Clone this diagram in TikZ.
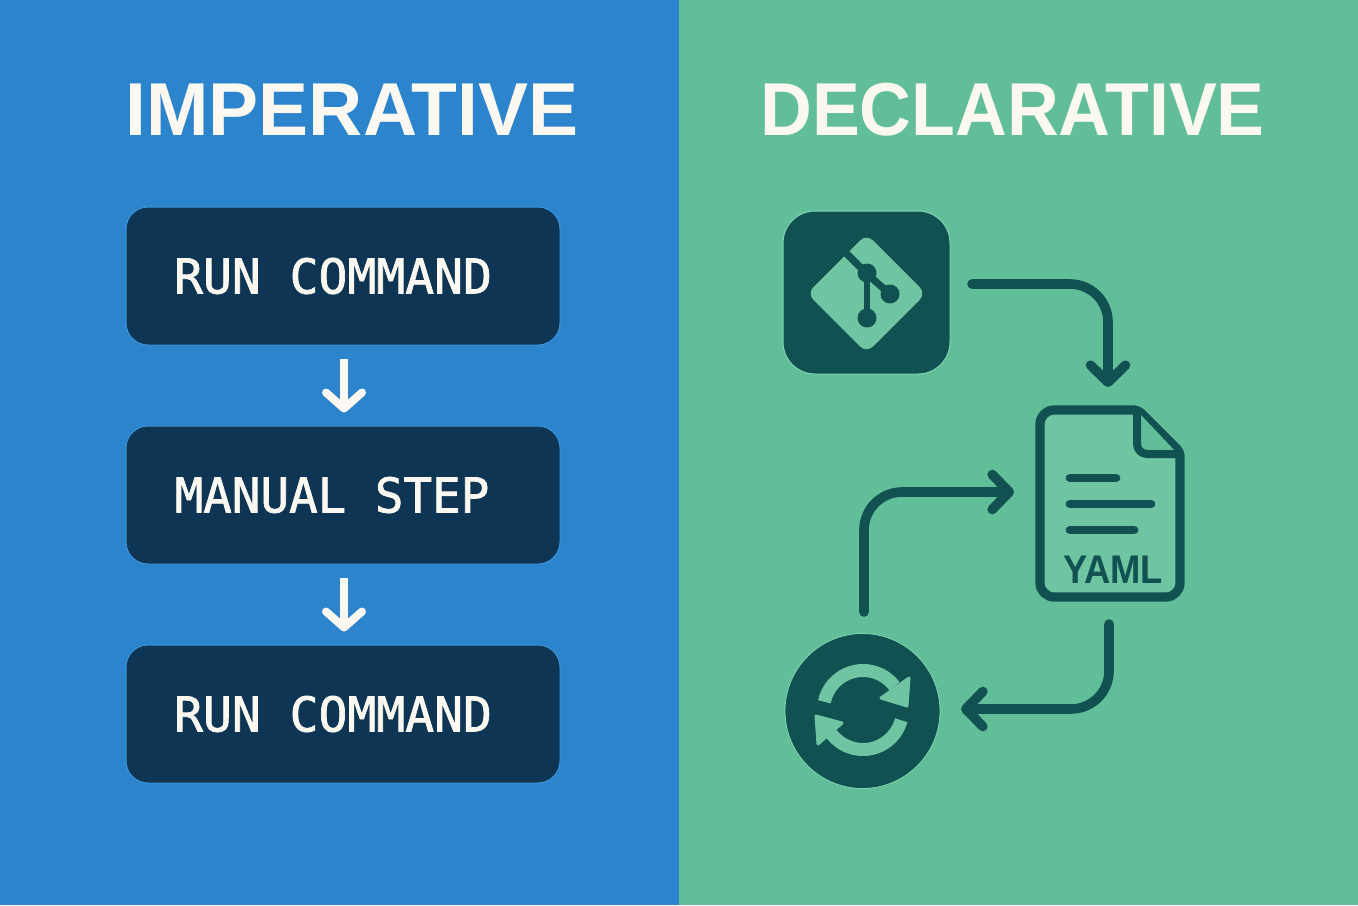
\documentclass[tikz,border=0pt]{standalone}
\usepackage{fontspec}
\setmainfont{Liberation Sans}
\newfontfamily\monofont{DejaVu Sans Mono}[FakeBold=1.5]
\usetikzlibrary{arrows.meta}
\definecolor{bluebg}{HTML}{2B84CC}
\definecolor{greenbg}{HTML}{62BE98}
\definecolor{navy}{HTML}{0E3553}
\definecolor{navyedge}{HTML}{3C95DC}
\definecolor{teal}{HTML}{115152}
\definecolor{pale}{HTML}{6FC5A1}
\definecolor{edgegreen}{HTML}{80D6B2}
\definecolor{cream}{HTML}{FAF8F1}
\tikzset{
  x=0.5pt,y=-0.5pt,
  headtext/.style={font=\fontsize{37.5}{37.5}\selectfont\bfseries,text=cream,inner sep=0pt,anchor=center},
  stepbox/.style={draw=navyedge,line width=0.5pt,fill=navy,rounded corners=11pt,minimum width=217pt,minimum height=69pt,inner sep=0pt},
  steptext/.style={font=\fontsize{24}{24}\selectfont\monofont,text=cream,inner sep=0pt},
  whitearrow/.style={draw=cream,line width=4pt,-{Straight Barb[round,length=8pt,width=18pt]}},
  flow/.style={draw=teal,line width=4.8pt,line cap=round,-{Straight Barb[round,length=8.5pt,width=17.5pt]}},
  doclines/.style={draw=teal,line width=4.4pt,line cap=round},
}
\begin{document}
\begin{tikzpicture}
\useasboundingbox (0,0) rectangle (1358,905);
\fill[bluebg] (0,0) rectangle (679,905);
\fill[greenbg] (679,0) rectangle (1358,905);
\node[headtext] (t1) at (352,110) {IMPERATIVE};
\node[headtext] (t2) at (1012.5,110) {\scalebox{0.956}[1]{DECLARATIVE}};
% left column
\node[stepbox] (a) at (343,276) {};
\node[stepbox] (b) at (343,495) {};
\node[stepbox] (c) at (343,714) {};
\node[steptext] (ta) at (333,276) {RUN COMMAND};
\node[steptext] (tb) at (332,495) {\scalebox{0.99}[1]{MANUAL STEP}};
\node[steptext] (tc) at (333,714) {RUN COMMAND};
\draw[whitearrow] ([xshift=0.5pt,yshift=-6.5pt]a.south) -- ([xshift=0.5pt,yshift=6.5pt]b.north);
\draw[whitearrow] ([xshift=0.5pt,yshift=-6.5pt]b.south) -- ([xshift=0.5pt,yshift=6.5pt]c.north);
% git icon
\node[draw=edgegreen,line width=0.5pt,fill=teal,rounded corners=16pt,minimum width=83.5pt,minimum height=81.5pt,inner sep=0pt] (git) at (866.5,292.5) {};
\fill[pale,rounded corners=4.5pt] (866.5,234) -- (926,293.5) -- (866.5,353) -- (807,293.5) -- cycle;
\draw[teal,line width=3.6pt] (838,245) -- (867,274) -- (890,294);
\draw[teal,line width=2.8pt] (867,274) -- (867,318);
\fill[teal] (867,273) circle[radius=9.5];
\fill[teal] (890,294) circle[radius=9.5];
\fill[teal] (867,318) circle[radius=9.5];
% yaml doc
\draw[teal,fill=pale,line width=4.6pt,line join=round]
  [rounded corners=7pt] (1040,503) -- (1040,410)
  [rounded corners=2pt] -- (1138,410) -- (1180,452)
  [rounded corners=7pt] -- (1180,597) -- (1040,597) -- cycle;
\fill[greenbg] (1140,414) -- (1176,452) -- (1140,452) -- cycle;
\draw[teal,line width=4pt,rounded corners=5pt,line join=round] (1137,412) -- (1137,454) -- (1179,454);
\node[minimum width=70pt,minimum height=90pt,inner sep=0pt] (yaml) at (1110,503) {};
\draw[doclines] (1070,478) -- (1116,478);
\draw[doclines] (1070,504) -- (1151,504);
\draw[doclines] (1070,530) -- (1134,530);
\node[font=\fontsize{20}{20}\selectfont\bfseries,text=teal,inner sep=0pt] (ytext) at (1113,570) {\scalebox{0.91}[1]{YAML}};
% sync icon
\node[circle,draw=edgegreen,line width=0.4pt,fill=teal,minimum size=77.5pt,inner sep=0pt] (sync) at (862.5,711) {};
\draw[pale,line width=6.5pt] (863,710) ++(-168:39.5) arc[start angle=-168,end angle=-37,radius=39.5];
\draw[pale,line width=6.5pt] (863,710) ++(15:39.5) arc[start angle=15,end angle=143,radius=39.5];
\fill[pale,draw=pale,line width=1.5pt,line join=round] (909,678) -- (907,706) -- (881,698) -- cycle;
\fill[pale,draw=pale,line width=1.5pt,line join=round] (816,716) -- (842,723) -- (818,744) -- cycle;
% connectors
\coordinate (p1) at (972,284);
\coordinate (q1) at (1108,387);
\coordinate (p2) at (864,612);
\coordinate (q2) at (1014,492);
\coordinate (p3) at (1109,624);
\coordinate (q3) at (961,709);
\draw[flow,rounded corners=19pt] (p1) -- (p1 -| q1) -- (q1);
\draw[flow,rounded corners=19pt] (p2) -- (p2 |- q2) -- (q2);
\draw[flow,rounded corners=19pt] (p3) -- (p3 |- q3) -- (q3);
\end{tikzpicture}
\end{document}
